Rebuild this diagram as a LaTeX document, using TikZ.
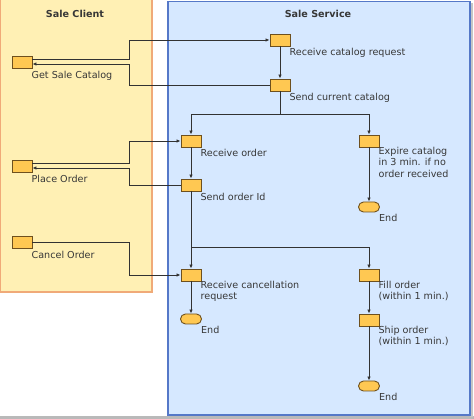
\documentclass[tikz,border=0pt]{standalone}
\usepackage{fontspec}
\setmainfont{DejaVu Sans}
\usetikzlibrary{arrows.meta}
\definecolor{actfill}{RGB}{255,200,82}
\definecolor{actdraw}{RGB}{110,80,30}
\definecolor{clfill}{RGB}{255,240,180}
\definecolor{cldraw}{RGB}{240,170,120}
\definecolor{svfill}{RGB}{214,232,255}
\definecolor{svdraw}{RGB}{85,120,200}
\definecolor{txt}{RGB}{55,55,55}
\definecolor{ln}{RGB}{50,50,50}
\tikzset{
  act/.style={draw=actdraw, fill=actfill, line width=0.9pt, minimum width=20pt, minimum height=12pt, inner sep=0pt},
  endst/.style={draw=actdraw, fill=actfill, line width=0.9pt, minimum width=21pt, minimum height=10pt, inner sep=0pt, rounded corners=5pt},
  lbl/.style={text=txt, font=\fontsize{9.6}{11.5}\selectfont, inner sep=0pt, align=left, anchor=north west, execute at begin node={\rule{0pt}{9pt}}},
  ttl/.style={text=txt, font=\fontsize{9.6}{11.5}\selectfont\bfseries, inner sep=0pt},
  flow/.style={draw=ln, line width=0.8pt, -{Latex[length=4pt,width=3.5pt]}},
  flowr/.style={draw=ln, line width=0.8pt, {Latex[length=4pt,width=3.5pt]}-},
  plain/.style={draw=ln, line width=0.8pt},
}
\begin{document}
\begin{tikzpicture}[x=1pt,y=-1pt]
\useasboundingbox (0,0) rectangle (474,419);
% lanes
\fill[gray!55] (0,416.5) rectangle (474,419);
\fill[gray!45] (470,3) rectangle (472.5,417);
\draw[draw=cldraw, fill=clfill, line width=1.2pt] (0.6,-2) rectangle (152,292);
\draw[draw=svdraw, fill=svfill, line width=1.2pt] (168,1.2) rectangle (470,415);
\node[ttl] (tcl) at (75,14) {Sale Client};
\node[ttl] (tsv) at (318,14) {Sale Service};
% activities
\node[act] (gsc) at (22,62.5) {};
\node[act] (po) at (22,166) {};
\node[act] (co) at (22,242) {};
\node[act] (rcr) at (280,40) {};
\node[act] (scc) at (280,85) {};
\node[act] (ro) at (191,141) {};
\node[act] (ec) at (369,141) {};
\node[act] (soi) at (191,185) {};
\node[endst] (e1) at (369,207) {};
\node[act] (rcan) at (191,275) {};
\node[act] (fo) at (369,275) {};
\node[endst] (e2) at (191,319) {};
\node[act] (so) at (369,320) {};
\node[endst] (e3) at (369,386) {};
% labels
\node[lbl] (lgsc) at ([xshift=-1pt,yshift=-0.5pt]gsc.south east) {Get Sale Catalog};
\node[lbl] (lpo) at ([xshift=-1pt,yshift=-0.5pt]po.south east) {Place Order};
\node[lbl] (lco) at ([xshift=-1pt,yshift=-0.5pt]co.south east) {Cancel Order};
\node[lbl] (lrcr) at ([xshift=-1pt,yshift=0.5pt]rcr.south east) {Receive catalog request};
\node[lbl] (lscc) at ([xshift=-1pt,yshift=0.5pt]scc.south east) {Send current catalog};
\node[lbl] (lro) at ([xshift=-1pt,yshift=0.5pt]ro.south east) {Receive order};
\node[lbl] (lec) at ([xshift=-1pt,yshift=0.5pt]ec.south east) {Expire catalog\\in 3 min. if no\\order received};
\node[lbl] (lsoi) at ([xshift=-1pt,yshift=0.5pt]soi.south east) {Send order Id};
\node[lbl] (le1) at ([xshift=-1pt,yshift=0.5pt]e1.south east) {End};
\node[lbl] (lrcan) at ([xshift=-1pt,yshift=0.5pt]rcan.south east) {Receive cancellation\\request};
\node[lbl] (lfo) at ([xshift=-1pt,yshift=0.5pt]fo.south east) {Fill order\\(within 1 min.)};
\node[lbl] (le2) at ([xshift=-1pt,yshift=0.5pt]e2.south east) {End};
\node[lbl] (lso) at ([xshift=-1pt,yshift=0.5pt]so.south east) {Ship order\\(within 1 min.)};
\node[lbl] (le3) at ([xshift=-1pt,yshift=0.5pt]e3.south east) {End};
% messages
\draw[flow] ([yshift=3pt]gsc.east) -- ++(97,0) |- (rcr.west);
\draw[flowr] ([yshift=-1.5pt]gsc.east) -- ++(97,0) |- (scc.west);
\draw[flow] ([yshift=3pt]po.east) -- ++(97,0) |- (ro.west);
\draw[flowr] ([yshift=-2pt]po.east) -- ++(97,0) |- (soi.west);
\draw[flow] (co.east) -- ++(97,0) |- (rcan.west);
% flow
\draw[flow] (rcr) -- (scc);
\draw[plain] (scc.south) -- ++(0,23) coordinate (b1);
\draw[flow] (b1) -| (ro.north);
\draw[flow] (b1) -| (ec.north);
\draw[flow] (ro) -- (soi);
\draw[flow] (soi) -- (rcan);
\coordinate (b2) at (191,247);
\draw[flow] (b2) -| (fo.north);
\draw[flow] (ec) -- (e1);
\draw[flow] (rcan) -- (e2);
\draw[flow] (fo) -- (so);
\draw[flow] (so) -- (e3);
\end{tikzpicture}
\end{document}
